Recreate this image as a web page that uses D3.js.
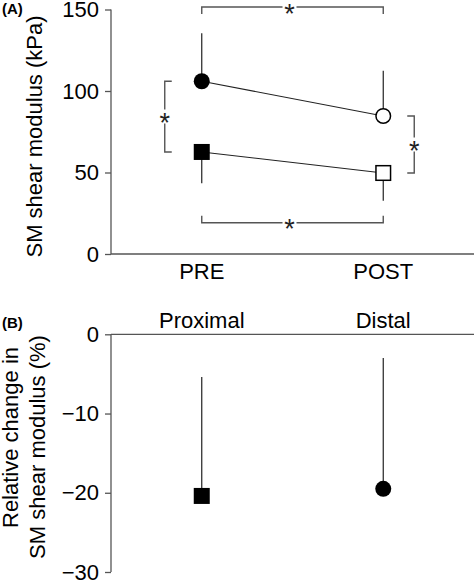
<!DOCTYPE html>
<html>
<head>
<meta charset="utf-8">
<script src="https://cdn.jsdelivr.net/npm/d3@7"></script>
<style>
  body { margin: 0; background: #fff; }
  svg { display: block; font-family: Arial, "Liberation Sans", sans-serif; }
</style>
</head>
<body>
<svg id="chart"></svg>
<script>
// panel A: shear modulus, PRE vs POST
const phases = ['PRE', 'POST'];
const distalMean = [106, 84.7];
const distalSD = [29.5, 27.8];
const proximalMean = [62.6, 49.7];
const proximalSD = [19.2, 17.0];
const yTicksA = [0, 50, 100, 150];

// panel B: relative change
const sites = ['Proximal', 'Distal'];
const changeMean = [-20.4, -19.5];
const changeSD = [15.0, 16.5];
const yTicksB = [0, -10, -20, -30];

const W = 474, H = 580,
  axisColor = '#555',
  fs = 22,
  left = 111;

const $svg = d3.select('#chart').attr('width', W).attr('height', H);

const xA = d3.scalePoint().domain(phases).range([left, W]).padding(0.5),
  yA = d3.scaleLinear().domain([0, 150]).range([254, 9.5]);
const xB = d3.scalePoint().domain(sites).range([left, W]).padding(0.5),
  yB = d3.scaleLinear().domain([-30, 0]).range([572, 334.3]);

const styleAxis = (g) => {
  g.select('.domain').remove();
  g.selectAll('.tick line').attr('stroke', axisColor).attr('stroke-width', 1.3);
  g.selectAll('.tick text').attr('font-size', fs).attr('fill', '#000')
    .attr('font-family', 'Arial, "Liberation Sans", sans-serif');
};

// ---------- panel A ----------
const gA = $svg.append('g');
gA.append('g').attr('transform', 'translate(' + left + ',0)')
  .call(d3.axisLeft(yA).tickValues(yTicksA).tickSize(6).tickPadding(6))
  .call(styleAxis);
gA.append('line').attr('x1', left).attr('x2', left)
  .attr('y1', yA(150)).attr('y2', yA(0))
  .attr('stroke', axisColor).attr('stroke-width', 1.3);
gA.append('line').attr('x1', left).attr('x2', W)
  .attr('y1', yA(0)).attr('y2', yA(0))
  .attr('stroke', axisColor).attr('stroke-width', 1.3);
gA.selectAll('text.xlab').data(phases).enter().append('text')
  .attr('class', 'xlab')
  .attr('x', (d) => xA(d)).attr('y', 279.3)
  .attr('text-anchor', 'middle').attr('font-size', fs)
  .text((d) => d);
gA.append('text')
  .text('SM shear modulus (kPa)')
  .attr('text-anchor', 'middle').attr('font-size', fs)
  .attr('transform', 'translate(41.5,136.5) rotate(-90)');
gA.append('text').text('(A)')
  .attr('x', 2).attr('y', 14).attr('font-size', 15).attr('font-weight', 'bold');

// error bars
gA.selectAll('line.errD').data(phases).enter().append('line')
  .attr('x1', (d) => xA(d)).attr('x2', (d) => xA(d))
  .attr('y1', (d, i) => yA(distalMean[i])).attr('y2', (d, i) => yA(distalMean[i] + distalSD[i]))
  .attr('stroke', '#222').attr('stroke-width', 1.2);
gA.selectAll('line.errP').data(phases).enter().append('line')
  .attr('x1', (d) => xA(d)).attr('x2', (d) => xA(d))
  .attr('y1', (d, i) => yA(proximalMean[i])).attr('y2', (d, i) => yA(proximalMean[i] - proximalSD[i]))
  .attr('stroke', '#222').attr('stroke-width', 1.2);

// connecting lines
const lineA = d3.line().x((d, i) => xA(phases[i])).y((d) => yA(d));
[distalMean, proximalMean].forEach((s) => {
  gA.append('path').attr('d', lineA(s))
    .attr('fill', 'none').attr('stroke', '#222').attr('stroke-width', 1.1);
});

// markers
gA.selectAll('circle.distal').data(phases).enter().append('circle')
  .attr('cx', (d) => xA(d)).attr('cy', (d, i) => yA(distalMean[i]))
  .attr('r', (d, i) => i == 0 ? 8 : 7.3)
  .attr('fill', (d, i) => i == 0 ? '#000' : '#fff')
  .attr('stroke', '#000').attr('stroke-width', (d, i) => i == 0 ? 0 : 1.5);
gA.selectAll('rect.proximal').data(phases).enter().append('rect')
  .attr('x', (d, i) => xA(d) - (i == 0 ? 8 : 7.3))
  .attr('y', (d, i) => yA(proximalMean[i]) - (i == 0 ? 8 : 7.3))
  .attr('width', (d, i) => i == 0 ? 16 : 14.6)
  .attr('height', (d, i) => i == 0 ? 16 : 14.6)
  .attr('fill', (d, i) => i == 0 ? '#000' : '#fff')
  .attr('stroke', '#000').attr('stroke-width', (d, i) => i == 0 ? 0 : 1.5);

// significance brackets
const star = (x, y) => {
  gA.append('text').text('*')
    .attr('x', x).attr('y', y + 15.5)
    .attr('text-anchor', 'middle').attr('font-size', 27).attr('fill', '#222');
};
const bStroke = (sel) => sel.attr('stroke', axisColor).attr('stroke-width', 1.4).attr('fill', 'none');
const hBracket = (value, dir) => {
  const y = yA(value), x1 = xA('PRE'), x2 = xA('POST'), mid = (x1 + x2) / 2, gap = 7;
  gA.append('path').attr('d', 'M' + x1 + ',' + (y + dir * 7) + 'V' + y + 'H' + (mid - gap - 3)).call(bStroke);
  gA.append('path').attr('d', 'M' + (mid + gap - 3) + ',' + y + 'H' + x2 + 'V' + (y + dir * 7)).call(bStroke);
  star(mid - 3, y);
};
const vBracket = (i, offset) => {
  const x = xA(phases[i]) + offset, y1 = yA(distalMean[i]), y2 = yA(proximalMean[i]),
    mid = (y1 + y2) / 2, gap = 7, tick = offset < 0 ? 7 : -7;
  gA.append('path').attr('d', 'M' + (x + tick) + ',' + y1 + 'H' + x + 'V' + (mid - gap)).call(bStroke);
  gA.append('path').attr('d', 'M' + x + ',' + (mid + gap) + 'V' + y2 + 'H' + (x + tick)).call(bStroke);
  star(x, mid);
};
hBracket(151.5, 1);
hBracket(19.2, -1);
vBracket(0, -37);
vBracket(1, 31);

// ---------- panel B ----------
const gB = $svg.append('g');
gB.append('g').attr('transform', 'translate(' + left + ',0)')
  .call(d3.axisLeft(yB).tickValues(yTicksB).tickSize(6).tickPadding(6))
  .call(styleAxis);
gB.append('line').attr('x1', left).attr('x2', left)
  .attr('y1', yB(0)).attr('y2', yB(-30))
  .attr('stroke', axisColor).attr('stroke-width', 1.3);
gB.append('line').attr('x1', left).attr('x2', W)
  .attr('y1', yB(0)).attr('y2', yB(0))
  .attr('stroke', axisColor).attr('stroke-width', 1.3);
gB.selectAll('text.xlab').data(sites).enter().append('text')
  .attr('x', (d) => xB(d)).attr('y', 328.3)
  .attr('text-anchor', 'middle').attr('font-size', fs)
  .text((d) => d);
gB.append('text').text('Relative change in')
  .attr('text-anchor', 'middle').attr('font-size', fs)
  .attr('transform', 'translate(18,437.5) rotate(-90)');
gB.append('text').text('SM shear modulus (%)')
  .attr('text-anchor', 'middle').attr('font-size', fs)
  .attr('transform', 'translate(45,447) rotate(-90)');
gB.append('text').text('(B)')
  .attr('x', 2).attr('y', 328).attr('font-size', 15).attr('font-weight', 'bold');

gB.selectAll('line.err').data(sites).enter().append('line')
  .attr('x1', (d) => xB(d)).attr('x2', (d) => xB(d))
  .attr('y1', (d, i) => yB(changeMean[i])).attr('y2', (d, i) => yB(changeMean[i] + changeSD[i]))
  .attr('stroke', '#222').attr('stroke-width', 1.2);
gB.append('rect')
  .attr('x', xB('Proximal') - 8).attr('y', yB(changeMean[0]) - 8)
  .attr('width', 16).attr('height', 16).attr('fill', '#000');
gB.append('circle')
  .attr('cx', xB('Distal')).attr('cy', yB(changeMean[1])).attr('r', 8).attr('fill', '#000');
</script>
</body>
</html>
